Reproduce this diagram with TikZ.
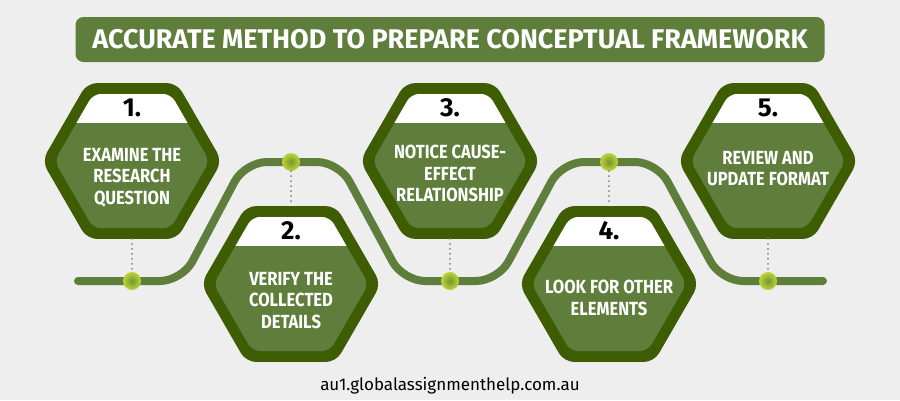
\documentclass[tikz,border=0pt]{standalone}
\usepackage{fontspec}
\setmainfont{Fira Sans}
\newfontfamily\stepfont{Fira Sans}[FakeStretch=0.87]
\usetikzlibrary{shapes.geometric}
\definecolor{hexdark}{HTML}{3E5D02}
\definecolor{hexmid}{HTML}{5F7D3B}
\definecolor{dotlight}{HTML}{BCD63A}
\definecolor{dotdark}{HTML}{759430}
\definecolor{paper}{HTML}{EEEEEE}

\begin{document}
\begin{tikzpicture}[x=1pt, y=-1pt,
  hexouter/.style={regular polygon, regular polygon sides=6, minimum size=180pt,
    inner sep=0pt, outer sep=0pt, fill=hexdark, rounded corners=10pt},
  hexinner/.style={regular polygon, regular polygon sides=6, minimum size=155pt,
    inner sep=0pt, outer sep=0pt, fill=hexmid, rounded corners=8pt,
    path picture={\fill[white, sharp corners] (path picture bounding box.north west)
      rectangle ([yshift=-29pt]path picture bounding box.north east);}},
  titlebox/.style={fill=hexmid, rounded corners=8pt, minimum width=749pt,
    minimum height=45pt, text=white, font=\bfseries\fontsize{27}{27}\selectfont},
  numtext/.style={font=\bfseries\fontsize{26}{26}\selectfont, text=black},
  steptext/.style={font=\stepfont\bfseries\fontsize{19}{21.5}\selectfont,
    text=white, align=center, anchor=north, inner sep=0pt},
  track/.style={hexmid, line width=8pt, rounded corners=22pt, line cap=round},
  trackdot/.style={circle, minimum size=18pt, inner sep=0pt,
    inner color=dotdark, outer color=dotlight},
  dotconn/.style={gray, line width=2pt, line cap=round, dash pattern=on 0pt off 5pt}]

  \fill[paper] (0,0) rectangle (900,400);
  \useasboundingbox (0,0) rectangle (900,400);

  \node[titlebox] (title) at (450,39.5) {ACCURATE METHOD TO PREPARE CONCEPTUAL FRAMEWORK};

  \draw[track] (78,281) -- (182,281) -- (245,162) -- (339,162) -- (403,281)
    -- (498,281) -- (562,162) -- (657,162) -- (721,281) -- (823,281);

  \foreach \i/\x/\y in {1/132/161, 2/291/284, 3/450/161, 4/609/284, 5/768/161} {
    \node[hexouter] (h\i) at (\x,\y) {};
    \node[hexinner] (i\i) at (\x,\y) {};
    \node[numtext] (n\i) at (\x,\y-53) {\i.};
  }

  \node[steptext] (t1) at (132,148) {EXAMINE THE\\RESEARCH\\QUESTION};
  \node[steptext] (t2) at (291,272) {VERIFY THE\\COLLECTED\\DETAILS};
  \node[steptext] (t3) at (450,145) {NOTICE CAUSE-\\EFFECT\\RELATIONSHIP};
  \node[steptext] (t4) at (609,280) {LOOK FOR OTHER\\ELEMENTS};
  \node[steptext] (t5) at (768,151) {REVIEW AND\\UPDATE FORMAT};

  \node[trackdot] (d1) at (132,281) {};
  \node[trackdot] (d2) at (291,162) {};
  \node[trackdot] (d3) at (450,281) {};
  \node[trackdot] (d4) at (609,162) {};
  \node[trackdot] (d5) at (768,281) {};

  \draw[dotconn] (h1) -- (d1);
  \draw[dotconn] (d2) -- (h2);
  \draw[dotconn] (h3) -- (d3);
  \draw[dotconn] (d4) -- (h4);
  \draw[dotconn] (h5) -- (d5);

  \node[font=\fontsize{17}{17}\selectfont] (url) at (450,386) {au1.globalassignmenthelp.com.au};
\end{tikzpicture}
\end{document}
